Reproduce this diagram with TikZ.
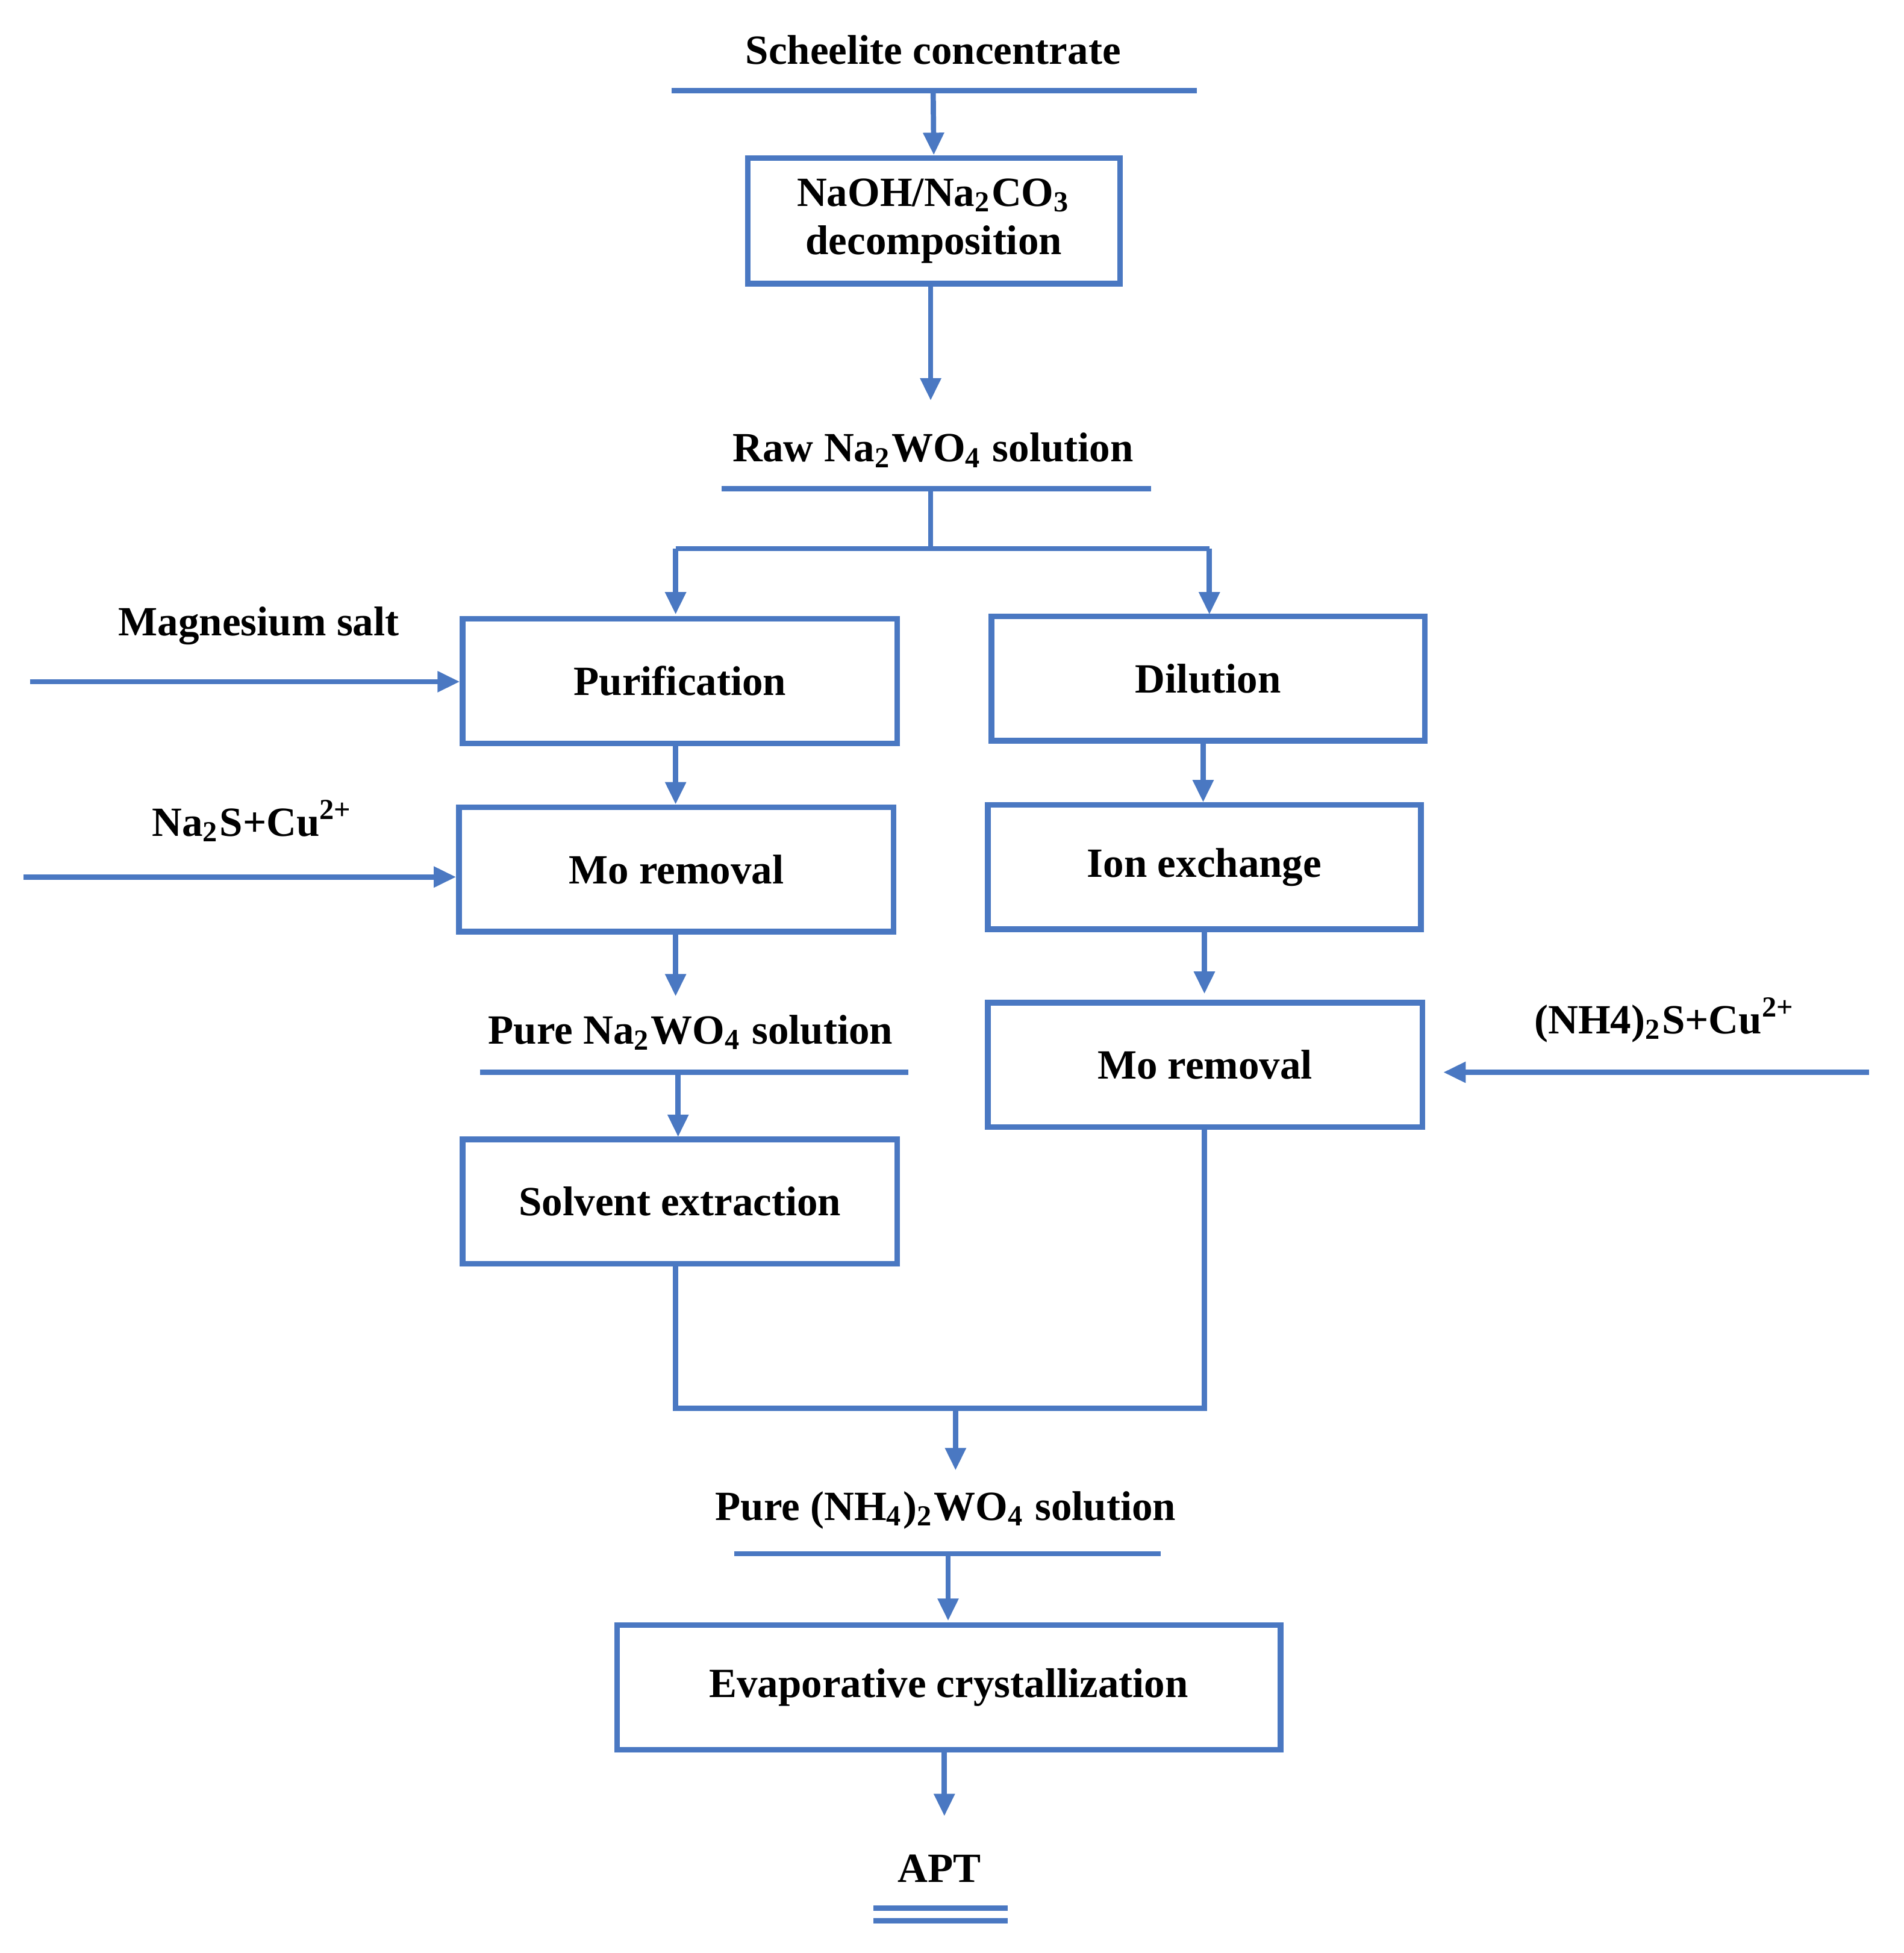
\documentclass[tikz,border=0pt]{standalone}
\usepackage{fontspec}
\setmainfont{Liberation Serif}
\usetikzlibrary{arrows.meta}
\definecolor{fb}{HTML}{4A78C2}
\begin{document}
\begin{tikzpicture}[x=0.01cm,y=-0.01cm,
  ln/.style={draw=fb,line width=1.2pt},
  ar/.style={ln,-{Triangle[length=0.18cm,width=0.16cm]}},
  bx/.style={draw=fb,line width=1.3pt,minimum height=1cm,font=\bfseries\fontsize{9.5}{11}\selectfont,align=center,inner sep=0pt},
  tx/.style={font=\bfseries\fontsize{9.5}{11}\selectfont,inner sep=0pt}]
\useasboundingbox (0,0) rectangle (1530,1570);
% top
\node[tx] (sc) at (750,40) {Scheelite concentrate};
\coordinate (l1a) at (540,73); \coordinate (l1b) at (962,73);
\draw[ln] (l1a) -- (l1b);
\node[bx,minimum width=2.99cm,minimum height=1.01cm] (dec) at (750.5,177.5) {NaOH/Na\textsubscript{2}CO\textsubscript{3}\\decomposition};
\coordinate (t1) at (750,73);
\draw[ar] (t1) -- (dec.north);
\coordinate (r1) at (748,322);
\draw[ar] (dec.south -| r1) -- (r1);
\node[tx] (raw) at (750,362) {Raw Na\textsubscript{2}WO\textsubscript{4} solution};
\coordinate (l2a) at (580,393); \coordinate (l2b) at (925,393);
\draw[ln] (l2a) -- (l2b);
% branches
\node[bx,minimum width=3.49cm] (pur) at (546.5,547.5) {Purification};
\node[bx,minimum width=3.48cm] (dil) at (971,545.5) {Dilution};
\coordinate (s0) at (748,393); \coordinate (s1) at (748,441);
\coordinate (sl) at (543,441); \coordinate (sr) at (972,441);
\draw[ln] (s0) -- (s1);
\draw[ln] (sl) -- (sr);
\draw[ar] (sl) -- (543,494);
\draw[ar] (sr) -- (972,494);
\node[tx] (mg) at (208,503) {Magnesium salt};
\coordinate (mga) at (24,548);
\draw[ar] (mga) -- (pur.west |- mga);
\node[bx,minimum width=3.49cm] (mo1) at (543.5,699) {Mo removal};
\draw[ar] (543,598) -- (mo1.north -| 543,0);
\node[tx] (na2s) at (203,660) {Na\textsubscript{2}S+Cu\textsuperscript{2+}};
\coordinate (na2sa) at (19,705);
\draw[ar] (na2sa) -- (mo1.west |- na2sa);
\node[bx,minimum width=3.48cm] (ion) at (968,697) {Ion exchange};
\draw[ar] (967,596) -- (967,645);
\draw[ar] (543,749) -- (543,801);
\node[tx] (pure1) at (555,830) {Pure Na\textsubscript{2}WO\textsubscript{4} solution};
\coordinate (l3a) at (386,862); \coordinate (l3b) at (730,862);
\draw[ln] (l3a) -- (l3b);
\node[bx,minimum width=3.49cm] (sol) at (546.5,966) {Solvent extraction};
\draw[ar] (545,862) -- (545,914);
\node[bx,minimum width=3.49cm] (mo2) at (968.5,856) {Mo removal};
\draw[ar] (968,747) -- (968,799);
\node[tx] (nh4s) at (1338,820) {(NH4)\textsubscript{2}S+Cu\textsuperscript{2+}};
\coordinate (nh4a) at (1502,862); \coordinate (nh4b) at (1160,862);
\draw[ar] (nh4a) -- (nh4b);
% merge
\coordinate (m1) at (543,1132); \coordinate (m2) at (968,1132);
\draw[ln] (543,1016) -- (m1) -- (m2) -- (968,906);
\coordinate (m3) at (768,1132);
\draw[ar] (m3) -- (768,1182);
\node[tx] (pure2) at (760,1214) {Pure (NH\textsubscript{4})\textsubscript{2}WO\textsubscript{4} solution};
\coordinate (l4a) at (590,1249); \coordinate (l4b) at (933,1249);
\draw[ln] (l4a) -- (l4b);
\node[bx,minimum width=5.33cm] (eva) at (762.5,1356.5) {Evaporative crystallization};
\draw[ar] (762,1249) -- (762,1303);
\draw[ar] (759,1407) -- (759,1460);
\node[tx] (apt) at (755,1502) {APT};
\coordinate (d1) at (702,1534); \coordinate (d2) at (810,1534);
\coordinate (d3) at (702,1544); \coordinate (d4) at (810,1544);
\draw[ln] (d1) -- (d2); \draw[ln] (d3) -- (d4);
\end{tikzpicture}
\end{document}
